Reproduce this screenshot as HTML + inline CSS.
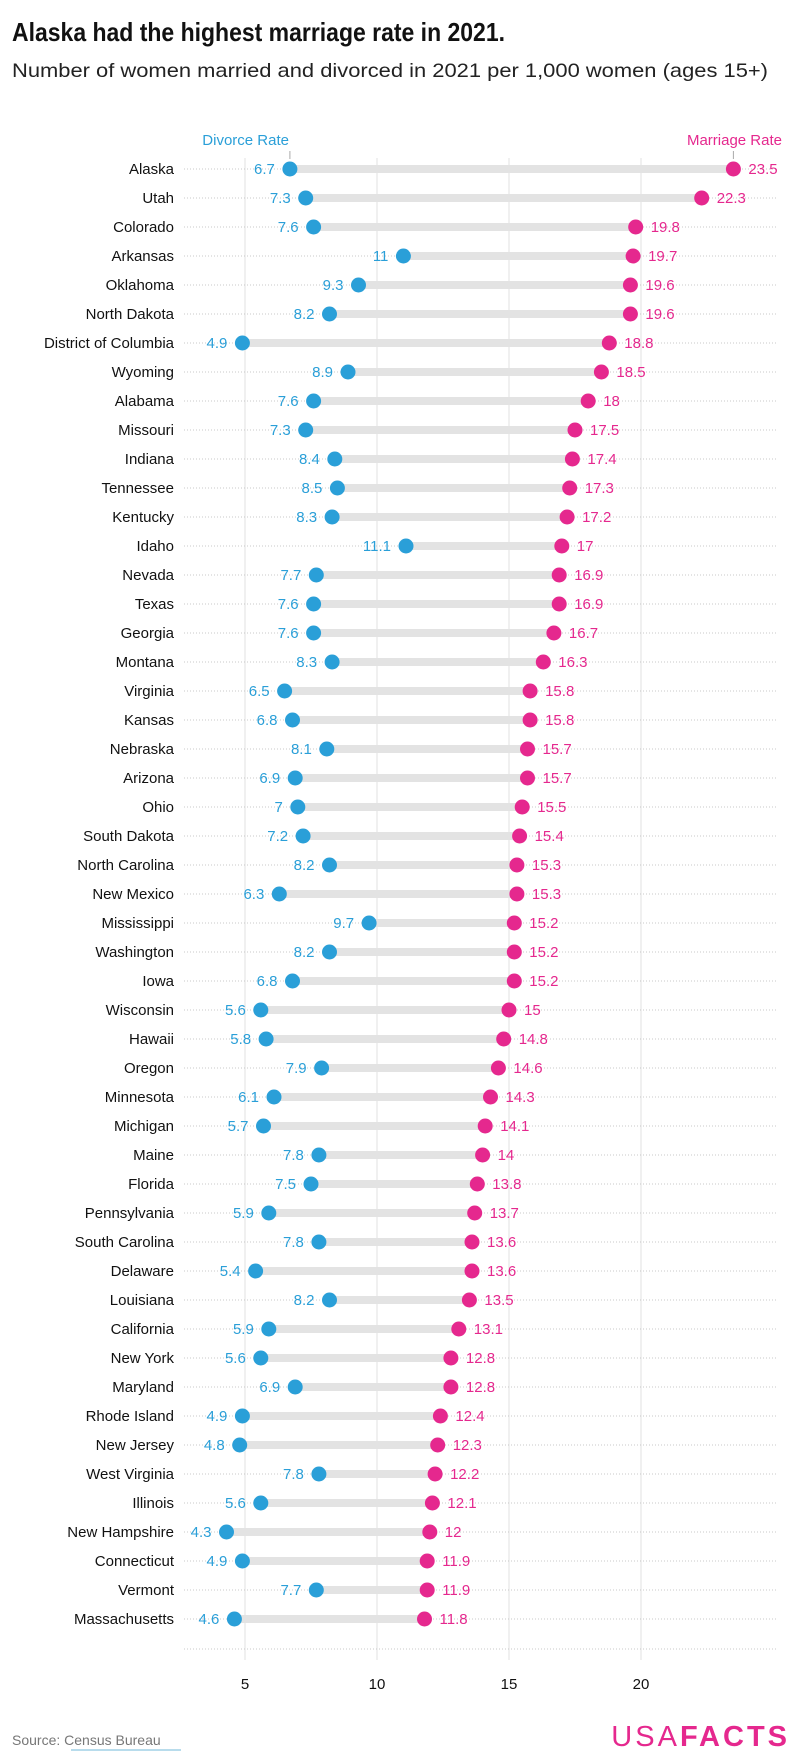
<!DOCTYPE html>
<html><head><meta charset="utf-8"><style>
html,body{margin:0;padding:0;background:#fff;}
svg{display:block;font-family:"Liberation Sans",sans-serif;}
.s{font-size:15px;fill:#111;text-anchor:end;}
.d{font-size:15px;fill:#2a9fd8;text-anchor:end;}
.m{font-size:15px;fill:#e5288e;}
.dot1{fill:#2a9fd8;}
.dot2{fill:#e5288e;}
.bar{stroke:#e3e3e3;stroke-width:8;}
.dl{stroke:#c8c8c8;stroke-width:1;stroke-dasharray:1 2;}
</style></head><body>
<svg width="800" height="1762" viewBox="0 0 800 1762">
<text x="12" y="41" font-size="26" font-weight="bold" fill="#111" textLength="493" lengthAdjust="spacingAndGlyphs">Alaska had the highest marriage rate in 2021.</text>
<text x="12" y="77" font-size="19.5" fill="#222" textLength="756" lengthAdjust="spacingAndGlyphs">Number of women married and divorced in 2021 per 1,000 women (ages 15+)</text>
<text x="289" y="145" font-size="15" fill="#2a9fd8" text-anchor="end">Divorce Rate</text>
<line x1="289.9" y1="151" x2="289.9" y2="159" stroke="#aaa"/>
<text x="782" y="145" font-size="15" fill="#e5288e" text-anchor="end">Marriage Rate</text>
<line x1="733.4" y1="151" x2="733.4" y2="159" stroke="#aaa"/>
<g stroke="#e0e0e0" stroke-width="1">
<line x1="245" y1="158" x2="245" y2="1660"/><line x1="377" y1="158" x2="377" y2="1660"/><line x1="509" y1="158" x2="509" y2="1660"/><line x1="641" y1="158" x2="641" y2="1660"/>
</g>
<g font-size="15" fill="#111" text-anchor="middle">
<text x="245" y="1689">5</text><text x="377" y="1689">10</text><text x="509" y="1689">15</text><text x="641" y="1689">20</text>
</g>
<line class="dl" x1="184" y1="1649" x2="777" y2="1649"/>
<g transform="translate(0,-2)">
<g transform="translate(0,171)"><line class="dl" x1="184" x2="777" y1="0" y2="0"/><text class="s" x="174" y="5">Alaska</text><line class="bar" x1="289.9" x2="733.4" y1="0" y2="0"/><circle class="dot1" cx="289.9" r="7.5"/><circle class="dot2" cx="733.4" r="7.5"/><text class="d" x="274.9" y="5">6.7</text><text class="m" x="748.4" y="5">23.5</text></g>
<g transform="translate(0,200)"><line class="dl" x1="184" x2="777" y1="0" y2="0"/><text class="s" x="174" y="5">Utah</text><line class="bar" x1="305.7" x2="701.7" y1="0" y2="0"/><circle class="dot1" cx="305.7" r="7.5"/><circle class="dot2" cx="701.7" r="7.5"/><text class="d" x="290.7" y="5">7.3</text><text class="m" x="716.7" y="5">22.3</text></g>
<g transform="translate(0,229)"><line class="dl" x1="184" x2="777" y1="0" y2="0"/><text class="s" x="174" y="5">Colorado</text><line class="bar" x1="313.6" x2="635.7" y1="0" y2="0"/><circle class="dot1" cx="313.6" r="7.5"/><circle class="dot2" cx="635.7" r="7.5"/><text class="d" x="298.6" y="5">7.6</text><text class="m" x="650.7" y="5">19.8</text></g>
<g transform="translate(0,258)"><line class="dl" x1="184" x2="777" y1="0" y2="0"/><text class="s" x="174" y="5">Arkansas</text><line class="bar" x1="403.4" x2="633.1" y1="0" y2="0"/><circle class="dot1" cx="403.4" r="7.5"/><circle class="dot2" cx="633.1" r="7.5"/><text class="d" x="388.4" y="5">11</text><text class="m" x="648.1" y="5">19.7</text></g>
<g transform="translate(0,287)"><line class="dl" x1="184" x2="777" y1="0" y2="0"/><text class="s" x="174" y="5">Oklahoma</text><line class="bar" x1="358.5" x2="630.4" y1="0" y2="0"/><circle class="dot1" cx="358.5" r="7.5"/><circle class="dot2" cx="630.4" r="7.5"/><text class="d" x="343.5" y="5">9.3</text><text class="m" x="645.4" y="5">19.6</text></g>
<g transform="translate(0,316)"><line class="dl" x1="184" x2="777" y1="0" y2="0"/><text class="s" x="174" y="5">North Dakota</text><line class="bar" x1="329.5" x2="630.4" y1="0" y2="0"/><circle class="dot1" cx="329.5" r="7.5"/><circle class="dot2" cx="630.4" r="7.5"/><text class="d" x="314.5" y="5">8.2</text><text class="m" x="645.4" y="5">19.6</text></g>
<g transform="translate(0,345)"><line class="dl" x1="184" x2="777" y1="0" y2="0"/><text class="s" x="174" y="5">District of Columbia</text><line class="bar" x1="242.4" x2="609.3" y1="0" y2="0"/><circle class="dot1" cx="242.4" r="7.5"/><circle class="dot2" cx="609.3" r="7.5"/><text class="d" x="227.4" y="5">4.9</text><text class="m" x="624.3" y="5">18.8</text></g>
<g transform="translate(0,374)"><line class="dl" x1="184" x2="777" y1="0" y2="0"/><text class="s" x="174" y="5">Wyoming</text><line class="bar" x1="348" x2="601.4" y1="0" y2="0"/><circle class="dot1" cx="348" r="7.5"/><circle class="dot2" cx="601.4" r="7.5"/><text class="d" x="333" y="5">8.9</text><text class="m" x="616.4" y="5">18.5</text></g>
<g transform="translate(0,403)"><line class="dl" x1="184" x2="777" y1="0" y2="0"/><text class="s" x="174" y="5">Alabama</text><line class="bar" x1="313.6" x2="588.2" y1="0" y2="0"/><circle class="dot1" cx="313.6" r="7.5"/><circle class="dot2" cx="588.2" r="7.5"/><text class="d" x="298.6" y="5">7.6</text><text class="m" x="603.2" y="5">18</text></g>
<g transform="translate(0,432)"><line class="dl" x1="184" x2="777" y1="0" y2="0"/><text class="s" x="174" y="5">Missouri</text><line class="bar" x1="305.7" x2="575" y1="0" y2="0"/><circle class="dot1" cx="305.7" r="7.5"/><circle class="dot2" cx="575" r="7.5"/><text class="d" x="290.7" y="5">7.3</text><text class="m" x="590" y="5">17.5</text></g>
<g transform="translate(0,461)"><line class="dl" x1="184" x2="777" y1="0" y2="0"/><text class="s" x="174" y="5">Indiana</text><line class="bar" x1="334.8" x2="572.4" y1="0" y2="0"/><circle class="dot1" cx="334.8" r="7.5"/><circle class="dot2" cx="572.4" r="7.5"/><text class="d" x="319.8" y="5">8.4</text><text class="m" x="587.4" y="5">17.4</text></g>
<g transform="translate(0,490)"><line class="dl" x1="184" x2="777" y1="0" y2="0"/><text class="s" x="174" y="5">Tennessee</text><line class="bar" x1="337.4" x2="569.7" y1="0" y2="0"/><circle class="dot1" cx="337.4" r="7.5"/><circle class="dot2" cx="569.7" r="7.5"/><text class="d" x="322.4" y="5">8.5</text><text class="m" x="584.7" y="5">17.3</text></g>
<g transform="translate(0,519)"><line class="dl" x1="184" x2="777" y1="0" y2="0"/><text class="s" x="174" y="5">Kentucky</text><line class="bar" x1="332.1" x2="567.1" y1="0" y2="0"/><circle class="dot1" cx="332.1" r="7.5"/><circle class="dot2" cx="567.1" r="7.5"/><text class="d" x="317.1" y="5">8.3</text><text class="m" x="582.1" y="5">17.2</text></g>
<g transform="translate(0,548)"><line class="dl" x1="184" x2="777" y1="0" y2="0"/><text class="s" x="174" y="5">Idaho</text><line class="bar" x1="406" x2="561.8" y1="0" y2="0"/><circle class="dot1" cx="406" r="7.5"/><circle class="dot2" cx="561.8" r="7.5"/><text class="d" x="391" y="5">11.1</text><text class="m" x="576.8" y="5">17</text></g>
<g transform="translate(0,577)"><line class="dl" x1="184" x2="777" y1="0" y2="0"/><text class="s" x="174" y="5">Nevada</text><line class="bar" x1="316.3" x2="559.2" y1="0" y2="0"/><circle class="dot1" cx="316.3" r="7.5"/><circle class="dot2" cx="559.2" r="7.5"/><text class="d" x="301.3" y="5">7.7</text><text class="m" x="574.2" y="5">16.9</text></g>
<g transform="translate(0,606)"><line class="dl" x1="184" x2="777" y1="0" y2="0"/><text class="s" x="174" y="5">Texas</text><line class="bar" x1="313.6" x2="559.2" y1="0" y2="0"/><circle class="dot1" cx="313.6" r="7.5"/><circle class="dot2" cx="559.2" r="7.5"/><text class="d" x="298.6" y="5">7.6</text><text class="m" x="574.2" y="5">16.9</text></g>
<g transform="translate(0,635)"><line class="dl" x1="184" x2="777" y1="0" y2="0"/><text class="s" x="174" y="5">Georgia</text><line class="bar" x1="313.6" x2="553.9" y1="0" y2="0"/><circle class="dot1" cx="313.6" r="7.5"/><circle class="dot2" cx="553.9" r="7.5"/><text class="d" x="298.6" y="5">7.6</text><text class="m" x="568.9" y="5">16.7</text></g>
<g transform="translate(0,664)"><line class="dl" x1="184" x2="777" y1="0" y2="0"/><text class="s" x="174" y="5">Montana</text><line class="bar" x1="332.1" x2="543.3" y1="0" y2="0"/><circle class="dot1" cx="332.1" r="7.5"/><circle class="dot2" cx="543.3" r="7.5"/><text class="d" x="317.1" y="5">8.3</text><text class="m" x="558.3" y="5">16.3</text></g>
<g transform="translate(0,693)"><line class="dl" x1="184" x2="777" y1="0" y2="0"/><text class="s" x="174" y="5">Virginia</text><line class="bar" x1="284.6" x2="530.1" y1="0" y2="0"/><circle class="dot1" cx="284.6" r="7.5"/><circle class="dot2" cx="530.1" r="7.5"/><text class="d" x="269.6" y="5">6.5</text><text class="m" x="545.1" y="5">15.8</text></g>
<g transform="translate(0,722)"><line class="dl" x1="184" x2="777" y1="0" y2="0"/><text class="s" x="174" y="5">Kansas</text><line class="bar" x1="292.5" x2="530.1" y1="0" y2="0"/><circle class="dot1" cx="292.5" r="7.5"/><circle class="dot2" cx="530.1" r="7.5"/><text class="d" x="277.5" y="5">6.8</text><text class="m" x="545.1" y="5">15.8</text></g>
<g transform="translate(0,751)"><line class="dl" x1="184" x2="777" y1="0" y2="0"/><text class="s" x="174" y="5">Nebraska</text><line class="bar" x1="326.8" x2="527.5" y1="0" y2="0"/><circle class="dot1" cx="326.8" r="7.5"/><circle class="dot2" cx="527.5" r="7.5"/><text class="d" x="311.8" y="5">8.1</text><text class="m" x="542.5" y="5">15.7</text></g>
<g transform="translate(0,780)"><line class="dl" x1="184" x2="777" y1="0" y2="0"/><text class="s" x="174" y="5">Arizona</text><line class="bar" x1="295.2" x2="527.5" y1="0" y2="0"/><circle class="dot1" cx="295.2" r="7.5"/><circle class="dot2" cx="527.5" r="7.5"/><text class="d" x="280.2" y="5">6.9</text><text class="m" x="542.5" y="5">15.7</text></g>
<g transform="translate(0,809)"><line class="dl" x1="184" x2="777" y1="0" y2="0"/><text class="s" x="174" y="5">Ohio</text><line class="bar" x1="297.8" x2="522.2" y1="0" y2="0"/><circle class="dot1" cx="297.8" r="7.5"/><circle class="dot2" cx="522.2" r="7.5"/><text class="d" x="282.8" y="5">7</text><text class="m" x="537.2" y="5">15.5</text></g>
<g transform="translate(0,838)"><line class="dl" x1="184" x2="777" y1="0" y2="0"/><text class="s" x="174" y="5">South Dakota</text><line class="bar" x1="303.1" x2="519.6" y1="0" y2="0"/><circle class="dot1" cx="303.1" r="7.5"/><circle class="dot2" cx="519.6" r="7.5"/><text class="d" x="288.1" y="5">7.2</text><text class="m" x="534.6" y="5">15.4</text></g>
<g transform="translate(0,867)"><line class="dl" x1="184" x2="777" y1="0" y2="0"/><text class="s" x="174" y="5">North Carolina</text><line class="bar" x1="329.5" x2="516.9" y1="0" y2="0"/><circle class="dot1" cx="329.5" r="7.5"/><circle class="dot2" cx="516.9" r="7.5"/><text class="d" x="314.5" y="5">8.2</text><text class="m" x="531.9" y="5">15.3</text></g>
<g transform="translate(0,896)"><line class="dl" x1="184" x2="777" y1="0" y2="0"/><text class="s" x="174" y="5">New Mexico</text><line class="bar" x1="279.3" x2="516.9" y1="0" y2="0"/><circle class="dot1" cx="279.3" r="7.5"/><circle class="dot2" cx="516.9" r="7.5"/><text class="d" x="264.3" y="5">6.3</text><text class="m" x="531.9" y="5">15.3</text></g>
<g transform="translate(0,925)"><line class="dl" x1="184" x2="777" y1="0" y2="0"/><text class="s" x="174" y="5">Mississippi</text><line class="bar" x1="369.1" x2="514.3" y1="0" y2="0"/><circle class="dot1" cx="369.1" r="7.5"/><circle class="dot2" cx="514.3" r="7.5"/><text class="d" x="354.1" y="5">9.7</text><text class="m" x="529.3" y="5">15.2</text></g>
<g transform="translate(0,954)"><line class="dl" x1="184" x2="777" y1="0" y2="0"/><text class="s" x="174" y="5">Washington</text><line class="bar" x1="329.5" x2="514.3" y1="0" y2="0"/><circle class="dot1" cx="329.5" r="7.5"/><circle class="dot2" cx="514.3" r="7.5"/><text class="d" x="314.5" y="5">8.2</text><text class="m" x="529.3" y="5">15.2</text></g>
<g transform="translate(0,983)"><line class="dl" x1="184" x2="777" y1="0" y2="0"/><text class="s" x="174" y="5">Iowa</text><line class="bar" x1="292.5" x2="514.3" y1="0" y2="0"/><circle class="dot1" cx="292.5" r="7.5"/><circle class="dot2" cx="514.3" r="7.5"/><text class="d" x="277.5" y="5">6.8</text><text class="m" x="529.3" y="5">15.2</text></g>
<g transform="translate(0,1012)"><line class="dl" x1="184" x2="777" y1="0" y2="0"/><text class="s" x="174" y="5">Wisconsin</text><line class="bar" x1="260.8" x2="509" y1="0" y2="0"/><circle class="dot1" cx="260.8" r="7.5"/><circle class="dot2" cx="509" r="7.5"/><text class="d" x="245.8" y="5">5.6</text><text class="m" x="524" y="5">15</text></g>
<g transform="translate(0,1041)"><line class="dl" x1="184" x2="777" y1="0" y2="0"/><text class="s" x="174" y="5">Hawaii</text><line class="bar" x1="266.1" x2="503.7" y1="0" y2="0"/><circle class="dot1" cx="266.1" r="7.5"/><circle class="dot2" cx="503.7" r="7.5"/><text class="d" x="251.1" y="5">5.8</text><text class="m" x="518.7" y="5">14.8</text></g>
<g transform="translate(0,1070)"><line class="dl" x1="184" x2="777" y1="0" y2="0"/><text class="s" x="174" y="5">Oregon</text><line class="bar" x1="321.6" x2="498.4" y1="0" y2="0"/><circle class="dot1" cx="321.6" r="7.5"/><circle class="dot2" cx="498.4" r="7.5"/><text class="d" x="306.6" y="5">7.9</text><text class="m" x="513.4" y="5">14.6</text></g>
<g transform="translate(0,1099)"><line class="dl" x1="184" x2="777" y1="0" y2="0"/><text class="s" x="174" y="5">Minnesota</text><line class="bar" x1="274" x2="490.5" y1="0" y2="0"/><circle class="dot1" cx="274" r="7.5"/><circle class="dot2" cx="490.5" r="7.5"/><text class="d" x="259" y="5">6.1</text><text class="m" x="505.5" y="5">14.3</text></g>
<g transform="translate(0,1128)"><line class="dl" x1="184" x2="777" y1="0" y2="0"/><text class="s" x="174" y="5">Michigan</text><line class="bar" x1="263.5" x2="485.2" y1="0" y2="0"/><circle class="dot1" cx="263.5" r="7.5"/><circle class="dot2" cx="485.2" r="7.5"/><text class="d" x="248.5" y="5">5.7</text><text class="m" x="500.2" y="5">14.1</text></g>
<g transform="translate(0,1157)"><line class="dl" x1="184" x2="777" y1="0" y2="0"/><text class="s" x="174" y="5">Maine</text><line class="bar" x1="318.9" x2="482.6" y1="0" y2="0"/><circle class="dot1" cx="318.9" r="7.5"/><circle class="dot2" cx="482.6" r="7.5"/><text class="d" x="303.9" y="5">7.8</text><text class="m" x="497.6" y="5">14</text></g>
<g transform="translate(0,1186)"><line class="dl" x1="184" x2="777" y1="0" y2="0"/><text class="s" x="174" y="5">Florida</text><line class="bar" x1="311" x2="477.3" y1="0" y2="0"/><circle class="dot1" cx="311" r="7.5"/><circle class="dot2" cx="477.3" r="7.5"/><text class="d" x="296" y="5">7.5</text><text class="m" x="492.3" y="5">13.8</text></g>
<g transform="translate(0,1215)"><line class="dl" x1="184" x2="777" y1="0" y2="0"/><text class="s" x="174" y="5">Pennsylvania</text><line class="bar" x1="268.8" x2="474.7" y1="0" y2="0"/><circle class="dot1" cx="268.8" r="7.5"/><circle class="dot2" cx="474.7" r="7.5"/><text class="d" x="253.8" y="5">5.9</text><text class="m" x="489.7" y="5">13.7</text></g>
<g transform="translate(0,1244)"><line class="dl" x1="184" x2="777" y1="0" y2="0"/><text class="s" x="174" y="5">South Carolina</text><line class="bar" x1="318.9" x2="472" y1="0" y2="0"/><circle class="dot1" cx="318.9" r="7.5"/><circle class="dot2" cx="472" r="7.5"/><text class="d" x="303.9" y="5">7.8</text><text class="m" x="487" y="5">13.6</text></g>
<g transform="translate(0,1273)"><line class="dl" x1="184" x2="777" y1="0" y2="0"/><text class="s" x="174" y="5">Delaware</text><line class="bar" x1="255.6" x2="472" y1="0" y2="0"/><circle class="dot1" cx="255.6" r="7.5"/><circle class="dot2" cx="472" r="7.5"/><text class="d" x="240.6" y="5">5.4</text><text class="m" x="487" y="5">13.6</text></g>
<g transform="translate(0,1302)"><line class="dl" x1="184" x2="777" y1="0" y2="0"/><text class="s" x="174" y="5">Louisiana</text><line class="bar" x1="329.5" x2="469.4" y1="0" y2="0"/><circle class="dot1" cx="329.5" r="7.5"/><circle class="dot2" cx="469.4" r="7.5"/><text class="d" x="314.5" y="5">8.2</text><text class="m" x="484.4" y="5">13.5</text></g>
<g transform="translate(0,1331)"><line class="dl" x1="184" x2="777" y1="0" y2="0"/><text class="s" x="174" y="5">California</text><line class="bar" x1="268.8" x2="458.8" y1="0" y2="0"/><circle class="dot1" cx="268.8" r="7.5"/><circle class="dot2" cx="458.8" r="7.5"/><text class="d" x="253.8" y="5">5.9</text><text class="m" x="473.8" y="5">13.1</text></g>
<g transform="translate(0,1360)"><line class="dl" x1="184" x2="777" y1="0" y2="0"/><text class="s" x="174" y="5">New York</text><line class="bar" x1="260.8" x2="450.9" y1="0" y2="0"/><circle class="dot1" cx="260.8" r="7.5"/><circle class="dot2" cx="450.9" r="7.5"/><text class="d" x="245.8" y="5">5.6</text><text class="m" x="465.9" y="5">12.8</text></g>
<g transform="translate(0,1389)"><line class="dl" x1="184" x2="777" y1="0" y2="0"/><text class="s" x="174" y="5">Maryland</text><line class="bar" x1="295.2" x2="450.9" y1="0" y2="0"/><circle class="dot1" cx="295.2" r="7.5"/><circle class="dot2" cx="450.9" r="7.5"/><text class="d" x="280.2" y="5">6.9</text><text class="m" x="465.9" y="5">12.8</text></g>
<g transform="translate(0,1418)"><line class="dl" x1="184" x2="777" y1="0" y2="0"/><text class="s" x="174" y="5">Rhode Island</text><line class="bar" x1="242.4" x2="440.4" y1="0" y2="0"/><circle class="dot1" cx="242.4" r="7.5"/><circle class="dot2" cx="440.4" r="7.5"/><text class="d" x="227.4" y="5">4.9</text><text class="m" x="455.4" y="5">12.4</text></g>
<g transform="translate(0,1447)"><line class="dl" x1="184" x2="777" y1="0" y2="0"/><text class="s" x="174" y="5">New Jersey</text><line class="bar" x1="239.7" x2="437.7" y1="0" y2="0"/><circle class="dot1" cx="239.7" r="7.5"/><circle class="dot2" cx="437.7" r="7.5"/><text class="d" x="224.7" y="5">4.8</text><text class="m" x="452.7" y="5">12.3</text></g>
<g transform="translate(0,1476)"><line class="dl" x1="184" x2="777" y1="0" y2="0"/><text class="s" x="174" y="5">West Virginia</text><line class="bar" x1="318.9" x2="435.1" y1="0" y2="0"/><circle class="dot1" cx="318.9" r="7.5"/><circle class="dot2" cx="435.1" r="7.5"/><text class="d" x="303.9" y="5">7.8</text><text class="m" x="450.1" y="5">12.2</text></g>
<g transform="translate(0,1505)"><line class="dl" x1="184" x2="777" y1="0" y2="0"/><text class="s" x="174" y="5">Illinois</text><line class="bar" x1="260.8" x2="432.4" y1="0" y2="0"/><circle class="dot1" cx="260.8" r="7.5"/><circle class="dot2" cx="432.4" r="7.5"/><text class="d" x="245.8" y="5">5.6</text><text class="m" x="447.4" y="5">12.1</text></g>
<g transform="translate(0,1534)"><line class="dl" x1="184" x2="777" y1="0" y2="0"/><text class="s" x="174" y="5">New Hampshire</text><line class="bar" x1="226.5" x2="429.8" y1="0" y2="0"/><circle class="dot1" cx="226.5" r="7.5"/><circle class="dot2" cx="429.8" r="7.5"/><text class="d" x="211.5" y="5">4.3</text><text class="m" x="444.8" y="5">12</text></g>
<g transform="translate(0,1563)"><line class="dl" x1="184" x2="777" y1="0" y2="0"/><text class="s" x="174" y="5">Connecticut</text><line class="bar" x1="242.4" x2="427.2" y1="0" y2="0"/><circle class="dot1" cx="242.4" r="7.5"/><circle class="dot2" cx="427.2" r="7.5"/><text class="d" x="227.4" y="5">4.9</text><text class="m" x="442.2" y="5">11.9</text></g>
<g transform="translate(0,1592)"><line class="dl" x1="184" x2="777" y1="0" y2="0"/><text class="s" x="174" y="5">Vermont</text><line class="bar" x1="316.3" x2="427.2" y1="0" y2="0"/><circle class="dot1" cx="316.3" r="7.5"/><circle class="dot2" cx="427.2" r="7.5"/><text class="d" x="301.3" y="5">7.7</text><text class="m" x="442.2" y="5">11.9</text></g>
<g transform="translate(0,1621)"><line class="dl" x1="184" x2="777" y1="0" y2="0"/><text class="s" x="174" y="5">Massachusetts</text><line class="bar" x1="234.4" x2="424.5" y1="0" y2="0"/><circle class="dot1" cx="234.4" r="7.5"/><circle class="dot2" cx="424.5" r="7.5"/><text class="d" x="219.4" y="5">4.6</text><text class="m" x="439.5" y="5">11.8</text></g>
</g>
<text x="12" y="1745" font-size="14" fill="#777">Source: Census Bureau</text>
<line x1="71" y1="1750" x2="181" y2="1750" stroke="#b8dcec" stroke-width="2"/>
<text x="790" y="1746" font-size="29" fill="#e5288e" text-anchor="end" letter-spacing="3"><tspan style="font-weight:300">USA</tspan><tspan font-weight="bold">FACTS</tspan></text>
</svg>
</body></html>
